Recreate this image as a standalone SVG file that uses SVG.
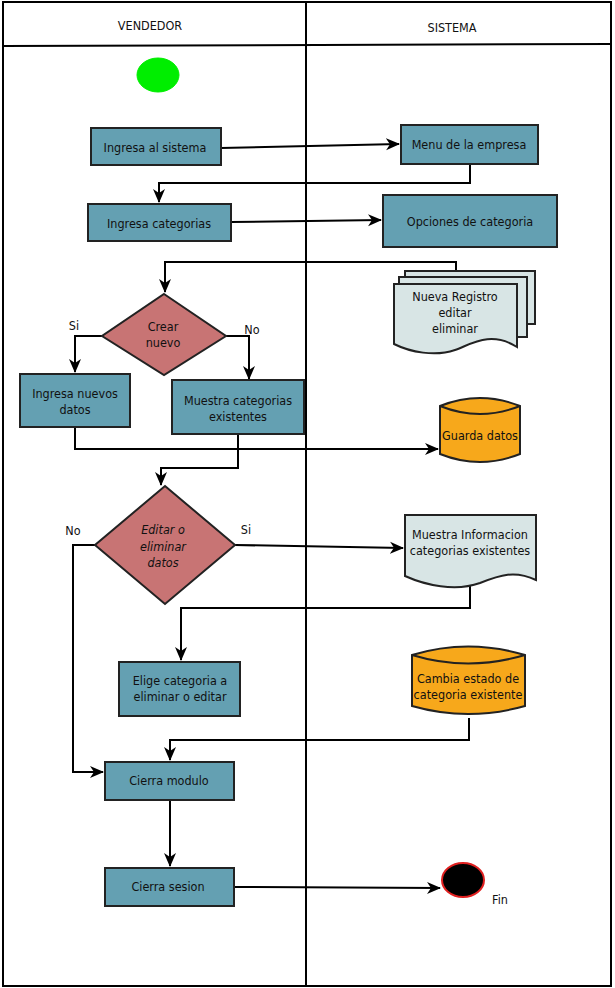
<svg xmlns="http://www.w3.org/2000/svg" width="615" height="988" viewBox="0 0 615 988">
<style>
text{font-family:"DejaVu Sans Condensed","DejaVu Sans","Liberation Sans",sans-serif;font-size:12.5px;fill:#111;text-anchor:middle}
.p{fill:#64a0b2;stroke:#222;stroke-width:2}
.d{fill:#c87474;stroke:#222;stroke-width:2}
.o{fill:#f7a81b;stroke:#222;stroke-width:2}
.doc{fill:#d8e5e5;stroke:#222;stroke-width:2}
.c{fill:none;stroke:#000;stroke-width:2}
.l{fill:none;stroke:#000;stroke-width:2}
</style>
<defs><marker id="a" markerWidth="14" markerHeight="14" refX="13" refY="7" orient="auto" markerUnits="userSpaceOnUse"><path d="M0,1 L14,7 L0,13 L4,7 Z" fill="#000"/></marker></defs>
<rect width="615" height="988" fill="#fff"/>
<g id="lanes">
<rect x="3" y="2" width="608" height="984" class="l"/>
<line x1="306" y1="2" x2="306" y2="986" class="l"/>
<line x1="3" y1="46" x2="611" y2="44" class="l"/>
<text x="150" y="30">VENDEDOR</text>
<text x="452" y="32">SISTEMA</text>
</g>
<g id="connectors">
<path d="M221,148 L399,144" class="c" marker-end="url(#a)"/>
<path d="M470,164 V183 H159 V202" class="c" marker-end="url(#a)"/>
<path d="M231,222 L381,220" class="c" marker-end="url(#a)"/>
<path d="M456,287 V262 H165 V292" class="c" marker-end="url(#a)"/>
<path d="M102,336 H75 V372" class="c" marker-end="url(#a)"/>
<path d="M226,336 H249 V379" class="c" marker-end="url(#a)"/>
<path d="M75,427 V449 H438" class="c" marker-end="url(#a)"/>
<path d="M238,434 V468 H161 V485" class="c" marker-end="url(#a)"/>
<path d="M235,545 L403,548" class="c" marker-end="url(#a)"/>
<path d="M95,545 H73 V772 H103" class="c" marker-end="url(#a)"/>
<path d="M470,580 V608 H181 V660" class="c" marker-end="url(#a)"/>
<path d="M469,718 V740 H170 V760" class="c" marker-end="url(#a)"/>
<path d="M170,800 V866" class="c" marker-end="url(#a)"/>
<path d="M234,887 L440,888" class="c" marker-end="url(#a)"/>
<text x="74" y="330">Si</text>
<text x="252" y="334">No</text>
<text x="246" y="534">Si</text>
<text x="73" y="535">No</text>
</g>
<g id="start"><ellipse cx="158" cy="75" rx="21" ry="17" fill="#00ee00" stroke="#00ee00"/></g>
<g id="n1"><rect x="91" y="128" width="130" height="37" class="p"/><text x="155" y="152">Ingresa al sistema</text></g>
<g id="n2"><rect x="401" y="125" width="137" height="39" class="p"/><text x="469" y="149">Menu de la empresa</text></g>
<g id="n3"><rect x="88" y="204" width="143" height="37" class="p"/><text x="159" y="228">Ingresa categorias</text></g>
<g id="n4"><rect x="383" y="195" width="174" height="52" class="p"/><text x="470" y="226">Opciones de categoria</text></g>
<g id="n5">
<rect x="405" y="271" width="130" height="53" class="doc"/>
<rect x="399" y="277" width="128" height="60" class="doc"/>
<path d="M394,284 H517 V347 C490,330 470,345 455,350 C435,357 410,352 394,344 Z" class="doc"/>
<text x="455" y="301">Nueva Registro</text><text x="455" y="317">editar</text><text x="455" y="333">eliminar</text>
</g>
<g id="n6"><path d="M164,294 L226,336 L164,375 L102,336 Z" class="d"/><text x="163" y="331">Crear</text><text x="163" y="347">nuevo</text></g>
<g id="n7"><rect x="20" y="374" width="110" height="53" class="p"/><text x="75" y="398">Ingresa nuevos</text><text x="75" y="414">datos</text></g>
<g id="n8"><rect x="172" y="380" width="132" height="54" class="p"/><text x="238" y="405">Muestra categorias</text><text x="238" y="421">existentes</text></g>
<g id="n9"><path d="M440,406 Q480,390 520,406 V454 Q480,470 440,454 Z" class="o"/><path d="M440,406 Q480,422 520,406" class="o"/><text x="480" y="440">Guarda datos</text></g>
<g id="n10"><path d="M165,486 L235,545 L165,604 L95,545 Z" class="d"/><text x="163" y="534" font-style="italic">Editar o</text><text x="163" y="551" font-style="italic">eliminar</text><text x="163" y="567" font-style="italic">datos</text></g>
<g id="n11"><path d="M405,515 H536 V580 C515,570 500,575 480,583 C455,592 425,585 405,576 Z" class="doc"/><text x="470" y="539">Muestra Informacion</text><text x="470" y="555">categorias existentes</text></g>
<g id="n12"><rect x="119" y="662" width="121" height="54" class="p"/><text x="180" y="685">Elige categoria a</text><text x="180" y="701">eliminar o editar</text></g>
<g id="n13"><path d="M412,655 Q468,638 525,655 V706 Q468,722 412,706 Z" class="o"/><path d="M412,655 Q468,672 525,655" class="o"/><text x="468" y="683">Cambia estado de</text><text x="468" y="699">categoria existente</text></g>
<g id="n14"><rect x="105" y="762" width="129" height="38" class="p"/><text x="169" y="785">Cierra modulo</text></g>
<g id="n15"><rect x="105" y="868" width="129" height="38" class="p"/><text x="168" y="891">Cierra sesion</text></g>
<g id="end"><ellipse cx="463" cy="880" rx="21" ry="17" fill="#000" stroke="#e02020" stroke-width="2"/><text x="500" y="904">Fin</text></g>
</svg>
